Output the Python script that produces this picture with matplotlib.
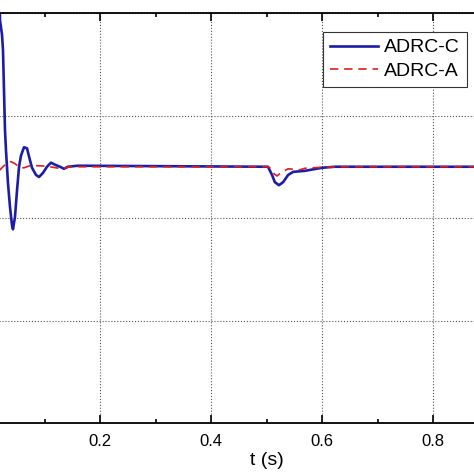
import matplotlib
matplotlib.use('Agg')
import matplotlib.pyplot as plt
import numpy as np
from matplotlib.ticker import MultipleLocator

plt.rcParams['font.family'] = ['Liberation Sans', 'DejaVu Sans']

# ADRC-C response (blue)
t_c = [0.0, 0.012, 0.0198, 0.0234, 0.0252, 0.027, 0.0288, 0.0306, 0.0342,
       0.0378, 0.0414, 0.0432, 0.0468, 0.0505, 0.0541, 0.0577, 0.0631, 0.0685,
       0.0721, 0.0775, 0.0847, 0.0901, 0.0973, 0.1045, 0.1117, 0.1189, 0.1279,
       0.1351, 0.1423, 0.16, 0.5027, 0.51, 0.515, 0.5225, 0.530, 0.539, 0.548,
       0.569, 0.60, 0.623, 1.0]
y_c = [0.0, 6.0, 3.93, 3.79, 3.64, 3.25, 2.86, 2.66, 2.34,
       2.11, 1.93, 1.89, 2.01, 2.27, 2.50, 2.61, 2.69, 2.68,
       2.60, 2.49, 2.42, 2.40, 2.44, 2.50, 2.54, 2.52, 2.50,
       2.48, 2.50, 2.51, 2.50, 2.42, 2.35, 2.32, 2.35, 2.42, 2.45,
       2.46, 2.49, 2.50, 2.50]

# ADRC-A response (red dashed)
t_a = [0.0, 0.01, 0.0198, 0.027, 0.0342, 0.0396, 0.0468, 0.0559, 0.0631,
       0.0739, 0.0919, 0.1099, 0.1315, 0.1459, 0.5, 0.506, 0.514, 0.519,
       0.528, 0.539, 0.56, 0.569, 0.60, 0.63, 1.0]
y_a = [2.5, 2.44, 2.47, 2.51, 2.54, 2.55, 2.53, 2.49, 2.49,
       2.51, 2.51, 2.50, 2.48, 2.50, 2.50, 2.49, 2.43, 2.41,
       2.45, 2.48, 2.47, 2.485, 2.495, 2.50, 2.50]

fig = plt.figure(figsize=(4.74, 4.74), dpi=100)
# axes run past the left and right edges, like the cropped reference
ax = fig.add_axes([-11 / 474, 51 / 474, 555 / 474, 410 / 474])

ax.plot(t_c, y_c, color='#1c1ca8', lw=1.9, label='ADRC-C')
ax.plot(t_a, y_a, color='#d42020', lw=1.2, ls=(0, (5, 3.5)), label='ADRC-A')

ax.set_xlim(0, 1)
ax.set_ylim(0, 4)
ax.xaxis.set_major_locator(MultipleLocator(0.2))
ax.xaxis.set_minor_locator(MultipleLocator(0.1))
ax.yaxis.set_major_locator(MultipleLocator(1))
ax.grid(True, which='major', ls=':', color='#555555', lw=0.8)

ax.tick_params(which='both', direction='in', top=True, right=True,
               labelsize=12, width=1.2)
ax.tick_params(which='major', length=6, pad=8)
ax.tick_params(which='minor', length=3)
for s in ax.spines.values():
    s.set_linewidth(1.3)

ax.set_xlabel('t (s)', fontsize=14, labelpad=2)

leg = ax.legend(loc='upper left', bbox_to_anchor=(334 / 555, 1 - 19 / 410),
                fontsize=14, handlelength=2.5, borderpad=0.35,
                labelspacing=0.3, handletextpad=0.3, borderaxespad=0,
                fancybox=False, framealpha=1)
leg.get_frame().set_edgecolor('#333333')
leg.get_frame().set_linewidth(0.8)

fig.savefig('out.png', dpi=100)
